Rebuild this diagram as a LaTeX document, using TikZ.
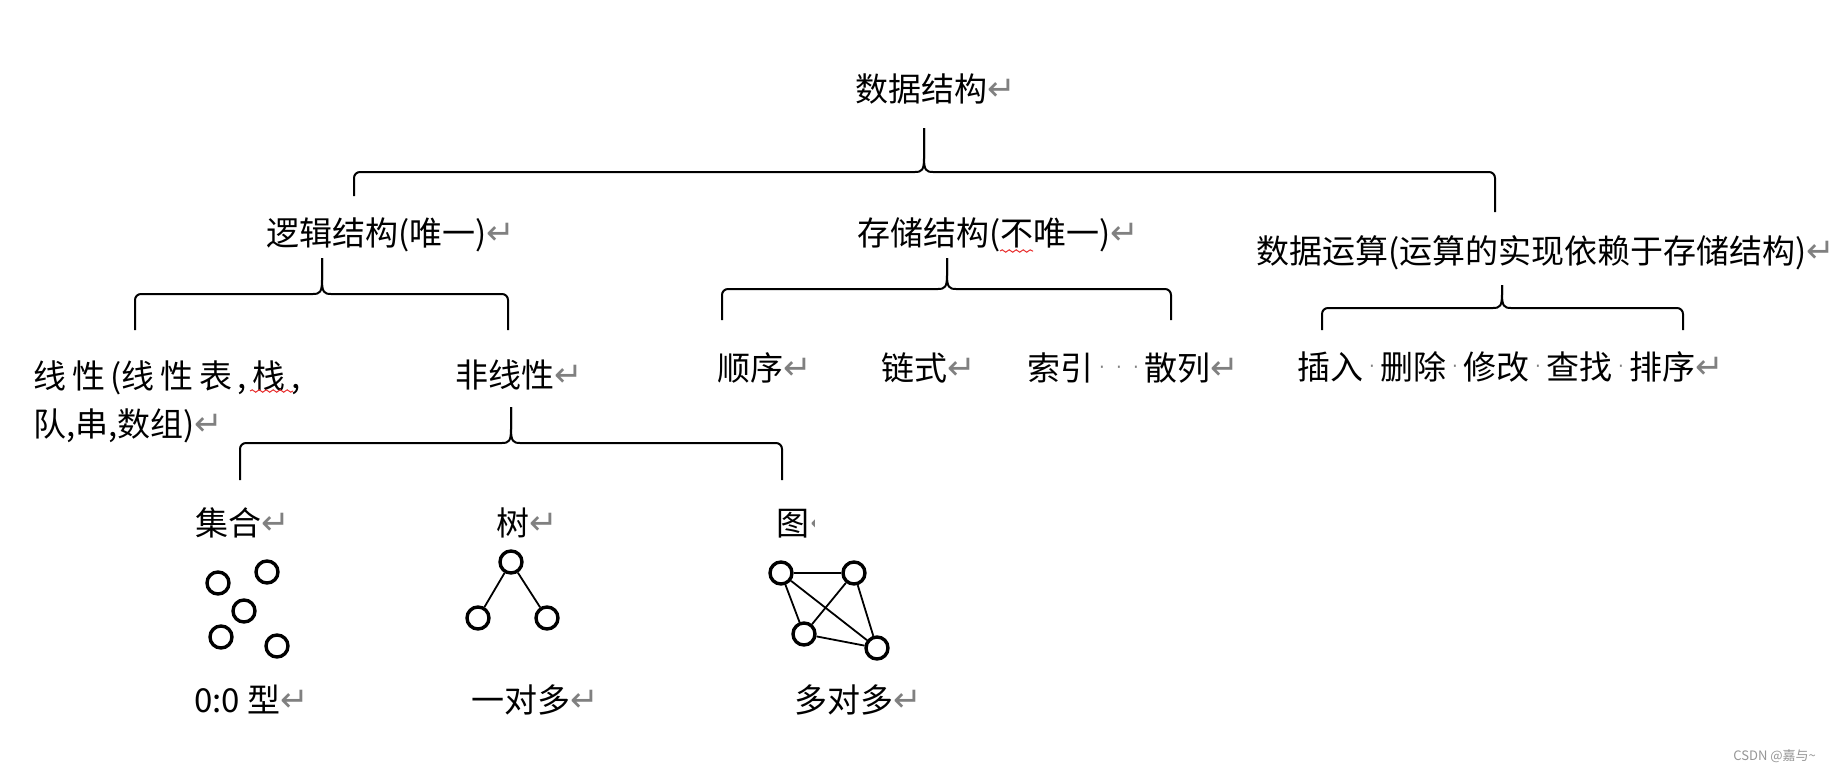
\documentclass[tikz,border=0pt]{standalone}
\usepackage{fontspec}
\usepackage{xcolor}
\usepackage{tikz}
\usetikzlibrary{calc,decorations.pathmorphing}
\newfontfamily\cjk{Noto Sans CJK SC}
\newfontfamily\symf{DejaVu Sans}
\definecolor{markgray}{RGB}{128,128,128}
\definecolor{squig}{RGB}{232,44,44}
\definecolor{wmgray}{RGB}{150,150,150}
\newcommand{\ret}{{\symf\fontsize{17pt}{18pt}\selectfont\color{markgray}\raisebox{0.5pt}{↵}}}
\newcommand{\spc}{\hbox to 8.5pt{\hss{\symf\fontsize{9pt}{9pt}\selectfont\color{markgray}\raisebox{3.2pt}{·}}\hss}}
% word-style brace: left foot, tip, right foot, drop of the bar below the tip
\newcommand{\wbrace}[4]{%
  \draw[brc] let \p1=(#1), \p2=(#2) in (\p1) -- (\x1,\y2-#4-3pt)
    arc[start angle=180,end angle=90,radius=3pt] -- (\x2-4.5pt,\y2-#4)
    .. controls (\x2-1pt,\y2-#4) and (\x2,\y2-#4+1pt) .. (\x2,\y2-#4+7pt) -- (\p2);
  \draw[brc] let \p3=(#3), \p2=(#2) in (\p3) -- (\x3,\y2-#4-3pt)
    arc[start angle=0,end angle=90,radius=3pt] -- (\x2+4.5pt,\y2-#4)
    .. controls (\x2+1pt,\y2-#4) and (\x2,\y2-#4+1pt) .. (\x2,\y2-#4+7pt) -- (\p2);}
\tikzset{
  lbl/.style   ={font=\cjk\fontsize{16.5pt}{20pt}\selectfont, anchor=base west, inner sep=0pt},
  brc/.style   ={draw=black, line width=1pt},
  ring/.style  ={circle, draw=black, line width=1.7pt, minimum size=11pt, inner sep=0pt},
  edg/.style   ={draw=black, line width=0.9pt},
  squiggle/.style={draw=squig, line width=0.5pt, decorate,
                 decoration={snake, amplitude=0.6pt, segment length=3.5pt}},
}
\begin{document}
\begin{tikzpicture}[x=0.5pt,y=-0.5pt]
\fill[white] (0,0) rectangle (1830,771);
\useasboundingbox (0,0) rectangle (1830,771);

% labels
\node[lbl] (root) at (855,101.5) {数据结构\ret};
\node[lbl] (logic) at (266,245) {逻辑结构(唯一)\ret};
\node[lbl] (store) at (857,245) {存储结构(不唯一)\ret};
\node[lbl] (ops) at (1256,263) {数据运算(运算的实现依赖于存储结构)\ret};
\node[lbl] (lin1) at (33,388) {\hbox to 133.5pt{线\hfil 性\hfil(线\hfil 性\hfil 表\hfil,\hfil 栈\hfil,}};
\node[lbl] (lin2) at (33,436) {队,串,数组)\ret};
\node[lbl] (nonlin) at (455,387) {非线性\ret};
\node[lbl] (seq) at (717,380) {顺序\ret};
\node[lbl] (chain) at (881,380) {链式\ret};
\node[lbl] (index) at (1027,380) {索引\spc\spc\spc 散列\ret};
\node[lbl] (opslist) at (1297,379) {插入\spc 删除\spc 修改\spc 查找\spc 排序\ret};
\node[lbl] (setlbl) at (195,535) {集合\ret};
\node[lbl] (treelbl) at (496,535) {树\ret};
\node[lbl] (graphlbl) at (776,535) {图};
\begin{scope}
  \clip (800,500) rectangle (814,545);
  \node[lbl] (graphret) at (graphlbl.base east) {\ret};
\end{scope}
\node[lbl] (settype) at (194,712) {0:0 型\ret};
\node[lbl] (treetype) at (471,712) {一对多\ret};
\node[lbl] (graphtype) at (794,712) {多对多\ret};
\node[font=\cjk\fontsize{6.5pt}{7pt}\selectfont, text=wmgray, anchor=base west, inner sep=0pt]
   (mark) at (1733,760) {CSDN @嘉与\textasciitilde};

% spell-check marks
\draw[squiggle] (250,391) -- (293,391);
\draw[squiggle] (1000,251) -- (1033,251);

% braces
\coordinate (rootL) at (354,196); \coordinate (rootT) at (924,128); \coordinate (rootR) at (1495,212);
\coordinate (logL) at (135,330);  \coordinate (logT) at (322,258);  \coordinate (logR) at (508,330);
\coordinate (stoL) at (722,320);  \coordinate (stoT) at (947,258);  \coordinate (stoR) at (1171,320);
\coordinate (opsL) at (1322,330); \coordinate (opsT) at (1502,285); \coordinate (opsR) at (1683,330);
\coordinate (nlL) at (240,480);   \coordinate (nlT) at (511,407);   \coordinate (nlR) at (782,480);
\wbrace{rootL}{rootT}{rootR}{22pt}
\wbrace{logL}{logT}{logR}{18pt}
\wbrace{stoL}{stoT}{stoR}{15.5pt}
\wbrace{opsL}{opsT}{opsR}{11.5pt}
\wbrace{nlL}{nlT}{nlR}{18pt}

% set: loose elements
\node[ring] (s1) at (218,583) {};
\node[ring] (s2) at (267,572) {};
\node[ring] (s3) at (244,611) {};
\node[ring] (s4) at (221,637) {};
\node[ring] (s5) at (277,646) {};

% tree
\node[ring] (t0) at (511,562) {};
\node[ring] (t1) at (478,618) {};
\node[ring] (t2) at (547,618) {};
\draw[edg] (t0) -- (t1);
\draw[edg] (t0) -- (t2);

% graph
\node[ring] (g1) at (781,573) {};
\node[ring] (g2) at (854,573) {};
\node[ring] (g3) at (804,634) {};
\node[ring] (g4) at (877,648) {};
\draw[edg] (g1) -- (g2);
\draw[edg] (g1) -- (g3);
\draw[edg] (g1) -- (g4);
\draw[edg] (g2) -- (g3);
\draw[edg] (g2) -- (g4);
\draw[edg] (g3) -- (g4);
\end{tikzpicture}
\end{document}
